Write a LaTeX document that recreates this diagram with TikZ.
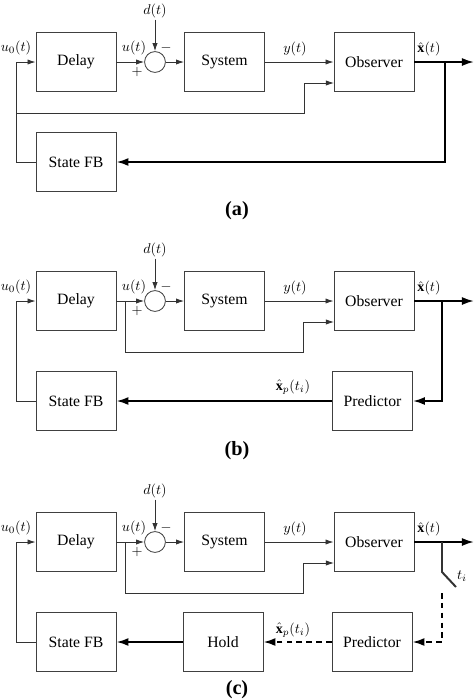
\documentclass[tikz,border=0pt]{standalone}
\usepackage{fontspec}
\setmainfont{Liberation Serif}
\usepackage{amsmath}
\usetikzlibrary{arrows.meta}
\tikzset{
  blk/.style={rectangle, draw=black!75, semithick, fill=white, minimum width=2cm,
              minimum height=1.48cm, inner sep=1pt, font=\fontsize{11.2}{13}\selectfont},
  sumc/.style={circle, draw=black!75, semithick, minimum size=5.2mm, inner sep=0pt},
  sig/.style={draw=black!80, semithick, -{Latex[length=2mm,width=1.3mm]}},   % thin signal
  thk/.style={draw=black, line width=1.4pt, -{Latex[length=3mm,width=2mm]}},  % thick signal
  ln/.style={draw=black!80, semithick},
  lbl/.style={font=\normalsize, inner sep=1pt},
  tag/.style={font=\Large\bfseries, inner sep=1pt},
}
\begin{document}
\begin{tikzpicture}[x=0.025cm, y=-0.025cm]
  \useasboundingbox (0,0) rectangle (474,700);
  % common upper part of the three loops
  \foreach \p/\dy in {a/0,b/239,c/480}{
    \begin{scope}[shift={(0,\dy)}]
      \node[blk] (dl\p) at (76,62)    {Delay};
      \node[sumc] (sm\p) at (155,62)  {};
      \node[blk] (sy\p) at (224.5,62) {System};
      \node[blk] (ob\p) at (374,62)   {Observer};
      \node[blk] (fb\p) at (76,162)   {State FB};
      \node[lbl] (d\p) at (155,11)    {$d(t)$};
      \coordinate (lf\p) at (16,62);
      \coordinate (in\p) at (334,83);
      \coordinate (ot\p) at (474,62);
      \draw[sig] (fb\p.west) -| (lf\p) -- (dl\p.west);
      \draw[sig] (dl\p.east) -- (sm\p.west);
      \draw[sig] (d\p) -- (sm\p.north);
      \draw[sig] (sm\p.east) -- (sy\p.west);
      \draw[sig] (sy\p.east) -- (ob\p.west);
      \draw[thk] (ob\p.east) -- (ot\p);
      \node[lbl] at (16,48)    {$u_0(t)$};
      \node[lbl] at (134,48)   {$u(t)$};
      \node[lbl] at (137,72)   {$+$};
      \node[lbl] at (166,48)   {$-$};
      \node[lbl] at (295,49)   {$y(t)$};
      \node[lbl] at (429,49)   {$\hat{\mathbf{x}}(t)$};
    \end{scope}
  }
  % (a)
  \coordinate (bra) at (445,62);
  \coordinate (tpa) at (16,113);
  \draw[sig] (tpa) -- (304,113) |- (ina);
  \draw[thk] (bra) |- (fba.east);
  \node[tag] at (237,211) {(a)};
  % (b)
  \begin{scope}[shift={(0,239)}]
    \node[blk] (prb) at (372.5,162) {Predictor};
    \coordinate (brb) at (442,62);
    \coordinate (tpb) at (125,62);
    \draw[sig] (tpb) |- (303,113) |- (inb);
    \draw[thk] (brb) |- (prb.east);
    \draw[thk] (prb.west) -- (fbb.east);
    \node[lbl] at (293,148) {$\hat{\mathbf{x}}_p(t_i)$};
    \node[tag] at (237,212) {(b)};
  \end{scope}
  % (c)
  \begin{scope}[shift={(0,480)}]
    \node[blk] (prc) at (372,162) {Predictor};
    \node[blk] (hdc) at (223,162) {Hold};
    \coordinate (brc) at (442,62);
    \coordinate (tpc) at (125,62);
    \coordinate (swc) at (442,113);
    \draw[sig] (tpc) |- (303,113) |- (inc);
    \draw[ln, line width=1.4pt] (brc) -- (442,92) -- (456,107);
    \node[lbl] at (462,96) {$t_i$};
    \draw[thk, dash pattern=on 4pt off 3pt] (swc) |- (prc.east);
    \draw[thk, dash pattern=on 4pt off 3pt] (prc.west) -- (hdc.east);
    \draw[thk] (hdc.west) -- (fbc.east);
    \node[lbl] at (293,150) {$\hat{\mathbf{x}}_p(t_i)$};
    \node[tag] at (237,210) {(c)};
  \end{scope}
\end{tikzpicture}
\end{document}
